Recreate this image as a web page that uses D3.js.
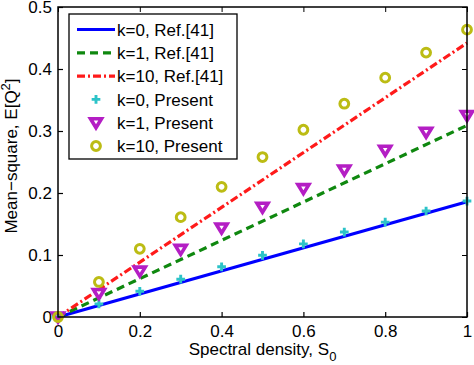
<!DOCTYPE html>
<html>
<head>
<meta charset="utf-8">
<script src="https://cdn.jsdelivr.net/npm/d3@7"></script>
<style>
    body { margin: 0; background: #fff; }
    #chart { width: 474px; height: 365px; }
    text { font-family: 'Liberation Sans', Arial, sans-serif; fill: #000; }
</style>
</head>
<body>
<div id="chart"></div>
<script>
//Datos
const sPresent = [0, 0.1, 0.2, 0.3, 0.4, 0.5, 0.6, 0.7, 0.8, 0.9, 1.0];
const k0Present = [0, 0.021, 0.0415, 0.061, 0.081, 0.0995, 0.118, 0.137, 0.153, 0.171, 0.187];
const k1Present = [0, 0.038, 0.074, 0.109, 0.1435, 0.177, 0.207, 0.237, 0.269, 0.298, 0.325];
const k10Present = [0, 0.0565, 0.110, 0.161, 0.210, 0.258, 0.302, 0.344, 0.386, 0.4265, 0.4635];

const sRef = [0, 1];
const k0Ref = [0, 0.186];
const k1Ref = [0, 0.309];
const k10Ref = [0, 0.442];

const xTicks = [0, 0.2, 0.4, 0.6, 0.8, 1];
const yTicks = [0, 0.1, 0.2, 0.3, 0.4, 0.5];

const legendLabels = ['k=0, Ref.[41]', 'k=1, Ref.[41]', 'k=10, Ref.[41]', 'k=0, Present', 'k=1, Present', 'k=10, Present'];

//Colores
const BLUE = '#0000ff', GREEN = '#0f880f', RED = '#ff1a1a',
    CYAN = '#2cc3c8', MAGENTA = '#b41ec4', OLIVE = '#bcbc14';

let margin = {top: 7, right: 7, bottom: 48, left: 58},
    width = 474 - margin.left - margin.right,
    height = 365 - margin.top - margin.bottom;

let svg = d3.select('#chart')
    .append('svg')
        .attr('width', 474)
        .attr('height', 365)
    .append('g')
        .attr('transform', 'translate(' + margin.left + ',' + margin.top + ')');

let x = d3.scaleLinear().domain([0, 1]).range([0, width]);
let y = d3.scaleLinear().domain([0, 0.5]).range([height, 0]);

let fontSize = 17;

//Ejes (ticks hacia dentro en los cuatro lados)
let xAxis = function(g) {
    g.call(d3.axisBottom(x).tickValues(xTicks).tickSize(-5).tickPadding(8).tickFormat(d3.format('~g')));
    g.call(function(g) { g.select('.domain').remove(); });
    g.selectAll('.tick text').attr('font-size', fontSize).attr('font-family', "'Liberation Sans', Arial, sans-serif");
    g.selectAll('.tick line').attr('stroke-width', 1.2);
};
let yAxis = function(g) {
    g.call(d3.axisLeft(y).tickValues(yTicks).tickSize(-5).tickPadding(6).tickFormat(d3.format('~g')));
    g.call(function(g) { g.select('.domain').remove(); });
    g.selectAll('.tick text').attr('font-size', fontSize).attr('font-family', "'Liberation Sans', Arial, sans-serif");
    g.selectAll('.tick line').attr('stroke-width', 1.2);
};

svg.append('g').attr('transform', 'translate(0,' + height + ')').call(xAxis);
svg.append('g').call(yAxis);
svg.append('g').call(d3.axisTop(x).tickValues(xTicks).tickSize(-5).tickFormat(''))
    .call(function(g) { g.select('.domain').remove(); });
svg.append('g').attr('transform', 'translate(' + width + ',0)')
    .call(d3.axisRight(y).tickValues(yTicks).tickSize(-5).tickFormat(''))
    .call(function(g) { g.select('.domain').remove(); });

//Líneas de referencia
let line = d3.line()
    .x(function(d) { return x(d[0]); })
    .y(function(d) { return y(d[1]); });

let refSeries = [
    {values: k0Ref, color: BLUE, dash: null},
    {values: k1Ref, color: GREEN, dash: '8,5'},
    {values: k10Ref, color: RED, dash: '8,3,2,3'}
];

refSeries.forEach(function(s) {
    svg.append('path')
        .datum(sRef.map(function(v, i) { return [v, s.values[i]]; }))
        .attr('d', line)
        .attr('fill', 'none')
        .attr('stroke', s.color)
        .attr('stroke-width', 3.2)
        .attr('stroke-dasharray', s.dash);
});

//Marcadores
function drawMarker(g, type) {
    if (type == 'cross') {
        g.append('path')
            .attr('d', d3.symbol().type(d3.symbolCross).size(42))
            .attr('fill', CYAN);
    } else if (type == 'tri') {
        g.append('path')
            .attr('d', 'M-5.5,-4 L5.5,-4 L0,5 Z')
            .attr('fill', 'none')
            .attr('stroke', MAGENTA)
            .attr('stroke-width', 3.6)
            .attr('stroke-linejoin', 'miter');
    } else {
        g.append('circle')
            .attr('r', 4.4)
            .attr('fill', 'none')
            .attr('stroke', OLIVE)
            .attr('stroke-width', 3);
    }
}

let presentSeries = [
    {values: k0Present, type: 'cross'},
    {values: k1Present, type: 'tri'},
    {values: k10Present, type: 'circ'}
];

presentSeries.forEach(function(s) {
    svg.append('g')
        .selectAll('g')
        .data(sPresent.map(function(v, i) { return [v, s.values[i]]; }))
        .enter()
        .append('g')
        .attr('transform', function(d) { return 'translate(' + x(d[0]) + ',' + y(d[1]) + ')'; })
        .each(function() { drawMarker(d3.select(this), s.type); });
});

//Marco
svg.append('rect')
    .attr('width', width)
    .attr('height', height)
    .attr('fill', 'none')
    .attr('stroke', '#000')
    .attr('stroke-width', 1.5);

//Leyenda
let legend = svg.append('g').attr('transform', 'translate(11,7)');
legend.append('rect')
    .attr('width', 168)
    .attr('height', 145)
    .attr('fill', '#fff')
    .attr('stroke', '#000')
    .attr('stroke-width', 1.3);

legendLabels.forEach(function(label, i) {
    let row = legend.append('g').attr('transform', 'translate(0,' + (15.5 + i * 23.3) + ')');
    if (i < 3) {
        row.append('line')
            .attr('x1', 8).attr('x2', 46)
            .attr('stroke', refSeries[i].color)
            .attr('stroke-width', 3.2)
            .attr('stroke-dasharray', refSeries[i].dash);
    } else {
        let m = row.append('g').attr('transform', 'translate(27,0)');
        drawMarker(m, presentSeries[i - 3].type);
    }
    row.append('text')
        .attr('x', 48)
        .attr('dy', '0.36em')
        .attr('font-size', fontSize)
        .text(label);
});

//Títulos de ejes
let xLabel = svg.append('text')
    .attr('x', width / 2)
    .attr('y', height + 38)
    .attr('text-anchor', 'middle')
    .attr('font-size', fontSize);
xLabel.append('tspan').text('Spectral density, S');
xLabel.append('tspan').attr('dy', 6).attr('font-size', 13).text('0');

let yLabel = svg.append('text')
    .attr('transform', 'translate(' + (-41) + ',' + (height / 2 - 6) + ') rotate(-90)')
    .attr('text-anchor', 'middle')
    .attr('font-size', fontSize);
yLabel.append('tspan').text('Mean\u2212square, E[Q');
yLabel.append('tspan').attr('dy', -7).attr('font-size', 13).text('2');
yLabel.append('tspan').attr('dy', 7).text(']');
</script>
</body>
</html>
